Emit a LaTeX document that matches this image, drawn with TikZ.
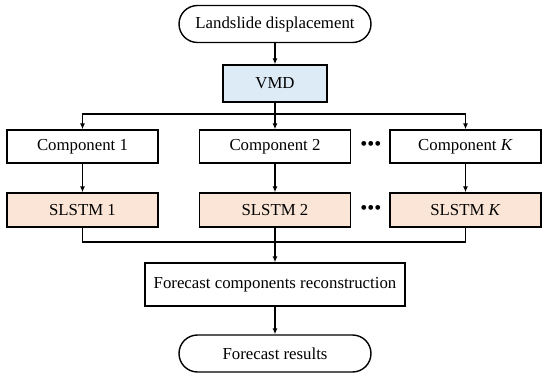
\documentclass[tikz,border=0pt]{standalone}
\usepackage{fontspec}
\setmainfont{Liberation Serif}
\usetikzlibrary{arrows.meta}
\definecolor{vmdblue}{HTML}{DDEBF7}
\definecolor{lstmorange}{HTML}{FBE5D6}
\begin{document}
\begin{tikzpicture}[x=1pt,y=-1pt,
  every node/.style={font=\fontsize{16.8}{19}\selectfont, inner sep=0pt, line width=1.4pt},
  terminal/.style={draw, rounded corners=18.5pt, minimum width=192pt, minimum height=37pt},
  procbox/.style={draw, minimum width=151pt, minimum height=33pt},
  lstmbox/.style={procbox, fill=lstmorange, minimum height=34pt},
  conn/.style={line width=1.4pt},
  arr/.style={conn, -{Latex[length=6pt,width=5pt]}},
  dots/.style={font=\fontsize{20}{22}\selectfont}
]
\useasboundingbox (0,0) rectangle (550,382);
\node[terminal] (top) at (275,24) {Landslide displacement};
\node[draw, fill=vmdblue, minimum width=104pt, minimum height=37pt] (vmd) at (275,83.5) {VMD};
\node[procbox] (c1) at (82.5,146.5) {Component 1};
\node[procbox] (c2) at (275,146.5) {Component 2};
\node[procbox] (cK) at (465.5,146.5) {Component \textit{K}};
\node[lstmbox] (s1) at (82.5,210) {SLSTM 1};
\node[lstmbox] (s2) at (275,210) {SLSTM 2};
\node[lstmbox] (sK) at (465.5,210) {SLSTM \textit{K}};
\node[dots] (d1) at (371,146.5) {•••};
\node[dots] (d2) at (371,210) {•••};
\node[draw, minimum width=260pt, minimum height=43pt] (rec) at (275,284.5) {Forecast components reconstruction};
\node[terminal] (res) at (275,353.5) {Forecast results};
\coordinate (split) at (275,114);
\coordinate (merge) at (275,242);
\draw[arr] (top) -- (vmd);
\draw[arr] (vmd) -- (c2);
\draw[arr] (split) -| (c1.north);
\draw[arr] (split) -| (cK.north);
\draw[arr] (c1) -- (s1);
\draw[arr] (c2) -- (s2);
\draw[arr] (cK) -- (sK);
\draw[conn] (s1.south) |- (merge) -| (sK.south);
\draw[arr] (s2) -- (rec);
\draw[arr] (rec) -- (res);
\end{tikzpicture}
\end{document}
